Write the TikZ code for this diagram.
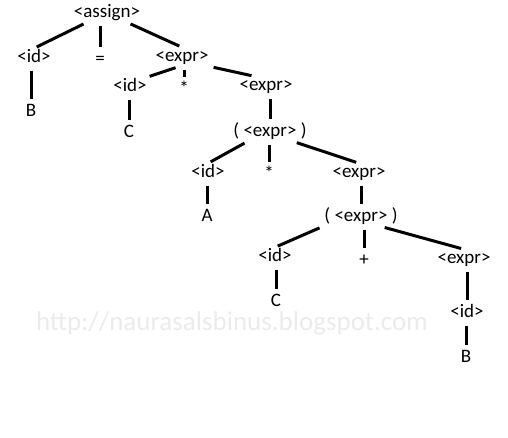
\documentclass[tikz,border=0pt]{standalone}
\usepackage{fontspec}
\setmainfont{Carlito}
\tikzstyle{sym}=[inner sep=2pt, text height=12pt, text depth=3pt, font=\fontsize{19}{22}\selectfont]
\tikzstyle{edge}=[line width=3pt, shorten <=3pt, shorten >=3pt]
\newcommand{\sym}{\node[sym]}

\begin{document}
\begin{tikzpicture}[x=1pt, y=-1pt]
\useasboundingbox (0,0) rectangle (508,438);
%watermark
\node[font=\fontsize{27}{30}\selectfont, text=black!8] (mark) at (232,323) {http://naurasalsbinus.blogspot.com};
%symbols
\sym (assign) at (107,13) {<assign>};
\sym (id1) at (34,58) {<id>};
\sym (eq) at (100,60) {=};
\sym (expr1) at (182,57) {<expr>};
\sym (b1) at (31,112) {B};
\sym (id2) at (130,87) {<id>};
\sym (mul1) at (184,90) {*};
\sym (expr2) at (266,86) {<expr>};
\sym (c1) at (129,133) {C};
\sym (par1) at (270,132) {( <expr> )};
\sym (id3) at (208,173) {<id>};
\sym (mul2) at (269,175) {*};
\sym (expr3) at (359,173) {<expr>};
\sym (a1) at (207,217) {A};
\sym (par2) at (361,217) {( <expr> )};
\sym (id4) at (275,257) {<id>};
\sym (plus) at (364,261) {+};
\sym (expr4) at (464,259) {<expr>};
\sym (c2) at (276,302) {C};
\sym (id5) at (467,313) {<id>};
\sym (b2) at (466,358) {B};
%edges
\foreach \a/\b in {assign.205/id1.north, assign.-25/expr1.north,
	expr1.250/id2.30, expr1.south east/expr2.140,
	par1.203/id3.north, par1.-22/expr3.north,
	par2.south west/id4.north, par2.-25/expr4.north}{
	\draw[edge] (\a) -- (\b);}
\foreach \a/\b in {assign/eq, id1/b1, expr1/mul1, id2/c1, expr2/par1,
	par1/mul2, id3/a1, expr3/par2, par2/plus, id4/c2, expr4/id5, id5/b2}{
	\draw[edge] (\b |- \a.south) -- (\b.north);}
\end{tikzpicture}
\end{document}
